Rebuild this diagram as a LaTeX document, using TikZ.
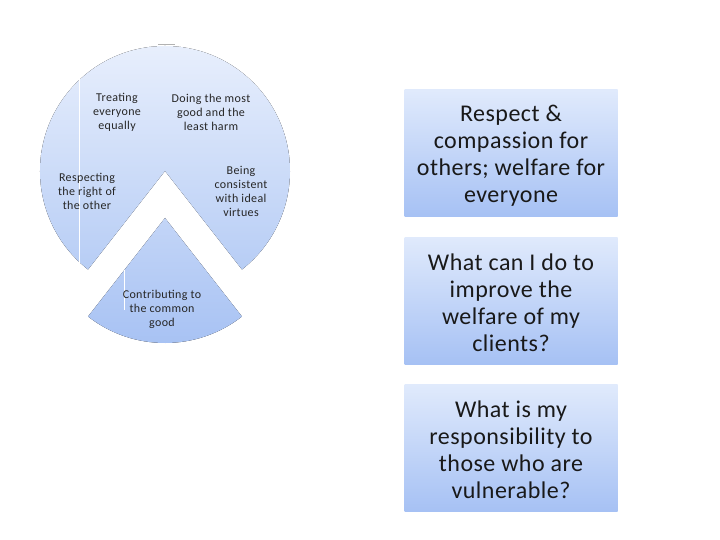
\documentclass[tikz,border=0pt]{standalone}
\usepackage{fontspec}
\setmainfont{Carlito}
\newfontfamily\boxfont[LetterSpace=2]{Carlito}
\newfontfamily\piefont[LetterSpace=3]{Carlito}
\definecolor{pietop}{HTML}{EBF1FD}
\definecolor{piemid}{HTML}{B7CDF5}
\definecolor{slicetop}{HTML}{C3D5F7}
\definecolor{slicebot}{HTML}{A6C1F3}
\definecolor{boxtop}{HTML}{E0EAFC}
\definecolor{boxbot}{HTML}{A6C1F4}
\begin{document}
\begin{tikzpicture}[x=1pt,y=-1pt,
  pietext/.style={font=\piefont\fontsize{12}{14}\selectfont, align=center, text=black!85, inner sep=0pt},
  boxtext/.style={font=\boxfont\fontsize{24}{27}\selectfont, align=center, text=black!90},
  panel/.style={draw=none, top color=boxtop, bottom color=boxbot, minimum width=213pt, minimum height=127pt, inner sep=0pt}]
\useasboundingbox (0,0) rectangle (720,540);
\coordinate (c) at (165,171);
\coordinate (c2) at (165,218);
% main pie body with notch
\fill[top color=pietop, bottom color=piemid] (c) -- ++(128:125) arc[start angle=128, end angle=412, radius=125] -- cycle;
% exploded slice
\fill[top color=slicetop, bottom color=slicebot] (c2) -- ++(52:125) arc[start angle=52, end angle=128, radius=125] -- cycle;
% faint artefact lines
\draw[white, line width=0.8pt] (79,75) -- (79,265);
\draw[white, line width=0.8pt] (124,270) -- (124,310);
\draw[gray!60, line width=0.6pt] (158,44) -- (175,44);
% pie labels
\node[pietext] (t1) at (117,112) {Treating\\everyone\\equally};
\node[pietext] (t2) at (211,112) {Doing the most\\good and the\\least harm};
\node[pietext] (t3) at (87,191) {Respecting\\the right of\\the other};
\node[pietext] (t4) at (241,191) {Being\\consistent\\with ideal\\virtues};
\node[pietext] (t5) at (162,309) {Contributing to\\the common\\good};
% right boxes
\node[panel] (b1) at (511,153.5) {};
\node[boxtext] (l1) at (511,155.5) {Respect \&\\compassion for\\others; welfare for\\everyone};
\node[panel] (b2) at (511,300.5) {};
\node[boxtext] (l2) at (511,302.5) {What can I do to\\improve the\\welfare of my\\clients?};
\node[panel] (b3) at (511,448) {};
\node[boxtext] (l3) at (511,450) {What is my\\responsibility to\\those who are\\vulnerable?};
\end{tikzpicture}
\end{document}
